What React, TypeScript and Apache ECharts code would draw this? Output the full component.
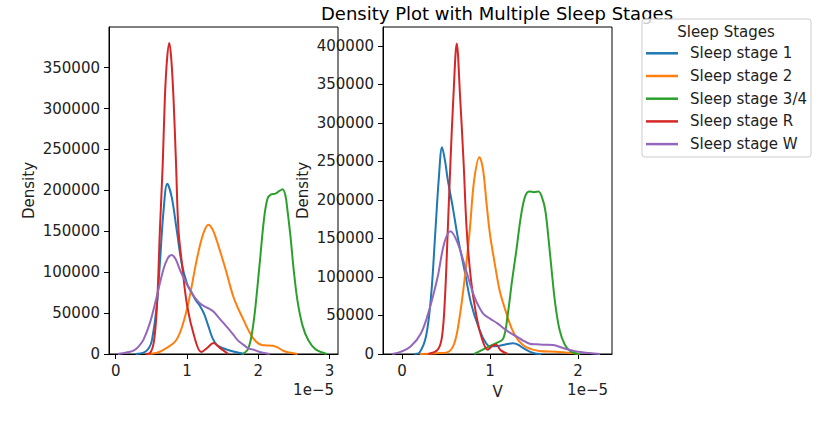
import React, { useEffect, useRef } from "react";
import * as echarts from "echarts";

// x values are in units of 1e-5 V, y values are densities
const STAGES = ["Sleep stage 1", "Sleep stage 2", "Sleep stage 3/4", "Sleep stage R", "Sleep stage W"];
const COLORS = ["#1f77b4", "#ff7f0e", "#2ca02c", "#d62728", "#9467bd"];

const LEFT_X_TICKS = [0, 1, 2, 3];
const RIGHT_X_TICKS = [0, 1, 2];
const LEFT_Y_TICKS = [0, 50000, 100000, 150000, 200000, 250000, 300000, 350000];
const RIGHT_Y_TICKS = [0, 50000, 100000, 150000, 200000, 250000, 300000, 350000, 400000];

// ---- left panel ----
const L1_X = [0.28, 0.40, 0.47, 0.51, 0.575, 0.62, 0.668, 0.724, 0.785, 0.855, 0.925, 1.0, 1.06, 1.12, 1.18, 1.24, 1.30, 1.36, 1.42, 1.51, 1.65, 1.80];
const L1_Y = [0, 2000, 8000, 17500, 58000, 111000, 172000, 208000, 192000, 152000, 111000, 86000, 76000, 66000, 59000, 49000, 34000, 19000, 11000, 7000, 3000, 0];

const L2_X = [0.44, 0.58, 0.67, 0.81, 0.87, 0.93, 1.0, 1.06, 1.12, 1.18, 1.24, 1.30, 1.36, 1.416, 1.47, 1.53, 1.59, 1.65, 1.71, 1.77, 1.88, 1.97, 2.05, 2.12, 2.2, 2.27, 2.35, 2.45, 2.55];
const L2_Y = [0, 1500, 5000, 13000, 20000, 33000, 55000, 80000, 108000, 132000, 150000, 158000, 152000, 139000, 124000, 107000, 88000, 70000, 57000, 46000, 26000, 15000, 11000, 10500, 10000, 8000, 4000, 1500, 0];

const L3_X = [1.78, 1.85, 1.90, 1.95, 2.02, 2.08, 2.13, 2.18, 2.24, 2.29, 2.34, 2.38, 2.41, 2.45, 2.50, 2.55, 2.62, 2.70, 2.80, 2.96];
const L3_Y = [0, 5000, 20000, 50000, 111000, 165000, 190000, 195000, 196000, 199000, 201500, 194000, 175000, 145000, 100000, 65000, 35000, 17000, 6000, 0];

const LR_X = [0.42, 0.48, 0.54, 0.585, 0.62, 0.66, 0.69, 0.72, 0.752, 0.78, 0.81, 0.846, 0.88, 0.93, 1.0, 1.1, 1.2, 1.29, 1.37, 1.46, 1.58];
const LR_Y = [0, 1000, 17500, 70000, 152000, 233000, 314000, 360000, 380000, 360000, 314000, 233000, 152000, 110000, 60000, 22000, 2500, 8000, 13500, 7500, 0];

const LW_X = [0.03, 0.10, 0.18, 0.25, 0.32, 0.39, 0.48, 0.575, 0.668, 0.73, 0.785, 0.84, 0.90, 0.97, 1.04, 1.11, 1.18, 1.25, 1.32, 1.37, 1.44, 1.51, 1.58, 1.65, 1.72, 1.79, 1.86, 1.93, 2.02, 2.16];
const LW_Y = [0, 1000, 2500, 4000, 9000, 17500, 38000, 70000, 103000, 117000, 121000, 116000, 103000, 90000, 78500, 69000, 62000, 58000, 55000, 52000, 45000, 38000, 31000, 23600, 16000, 11400, 7000, 5300, 2500, 0];

// ---- right panel ----
const R1_X = [0.14, 0.2, 0.273, 0.33, 0.38, 0.417, 0.455, 0.49, 0.52, 0.576, 0.633, 0.71, 0.784, 0.88, 0.955, 1.0, 1.11, 1.2, 1.26, 1.32, 1.375, 1.49, 1.58];
const R1_Y = [0, 2000, 23000, 75000, 161000, 226000, 268500, 250000, 226000, 191000, 152000, 109000, 66000, 31500, 14000, 10000, 10800, 13000, 14000, 12000, 7800, 1300, 0];

const R2_X = [0.2, 0.39, 0.52, 0.595, 0.65, 0.71, 0.77, 0.82, 0.88, 0.92, 0.96, 1.0, 1.05, 1.11, 1.18, 1.25, 1.32, 1.41, 1.56, 1.75, 1.95, 2.02];
const R2_Y = [0, 1000, 2500, 14000, 44500, 96000, 161000, 226000, 255500, 240000, 196000, 155000, 120000, 82000, 55000, 32000, 18000, 9000, 4000, 3000, 1000, 0];

const R3_X = [0.82, 0.99, 1.07, 1.15, 1.20, 1.25, 1.30, 1.35, 1.40, 1.45, 1.50, 1.55, 1.60, 1.63, 1.66, 1.70, 1.74, 1.79, 1.85, 1.92, 2.01];
const R3_Y = [0, 10000, 14000, 20000, 50000, 95000, 135000, 178000, 205000, 211000, 210000, 211000, 200000, 185000, 155000, 109000, 66000, 31500, 12000, 3000, 0];

const RR_X = [0.30, 0.406, 0.455, 0.489, 0.52, 0.55, 0.584, 0.622, 0.66, 0.70, 0.735, 0.784, 0.84, 0.90, 0.974, 1.03, 1.07, 1.12, 1.2];
const RR_Y = [0, 5600, 23000, 75000, 161000, 248000, 334000, 403000, 334000, 248000, 161000, 96000, 53000, 23000, 5600, 11000, 12000, 5000, 0];

const RW_X = [-0.11, -0.01, 0.10, 0.216, 0.31, 0.406, 0.48, 0.55, 0.633, 0.727, 0.82, 0.917, 1.0, 1.08, 1.15, 1.22, 1.30, 1.375, 1.45, 1.53, 1.60, 1.716, 1.83, 1.98, 2.13, 2.25];
const RW_Y = [0, 3000, 10000, 27000, 57500, 100600, 144000, 159500, 144000, 109000, 75000, 53000, 46000, 40000, 33700, 28000, 22800, 17500, 13400, 12500, 12000, 11600, 7800, 3400, 1300, 0];

const LEFT_SERIES = [[L1_X, L1_Y], [L2_X, L2_Y], [L3_X, L3_Y], [LR_X, LR_Y], [LW_X, LW_Y]];
const RIGHT_SERIES = [[R1_X, R1_Y], [R2_X, R2_Y], [R3_X, R3_Y], [RR_X, RR_Y], [RW_X, RW_Y]];

const FONT = "DejaVu Sans";
const TXT = "#222";

function pairs(xs: number[], ys: number[]) {
  return xs.map((x, i) => [x, ys[i]]);
}

function xAxis(grid: number, min: number, max: number, ticks: number[], name?: string) {
  return {
    type: "value",
    gridIndex: grid,
    min,
    max,
    name: name || "",
    nameLocation: "middle",
    nameGap: 30,
    nameTextStyle: { fontSize: 15, color: TXT, fontFamily: FONT },
    splitLine: { show: false },
    axisLine: { show: true, onZero: false, lineStyle: { color: "#000", width: 1 } },
    axisTick: { show: true, customValues: ticks, length: 5, lineStyle: { color: "#000", width: 1 } },
    axisLabel: {
      customValues: ticks,
      margin: 9,
      fontSize: 15,
      color: TXT,
      fontFamily: FONT,
      formatter: (v: number) => String(v),
    },
  };
}

function yAxis(grid: number, max: number, ticks: number[]) {
  return {
    type: "value",
    gridIndex: grid,
    min: 0,
    max,
    name: "Density",
    nameLocation: "middle",
    nameGap: 73,
    nameRotate: 90,
    nameTextStyle: { fontSize: 15, color: TXT, fontFamily: FONT },
    splitLine: { show: false },
    axisLine: { show: true, onZero: false, lineStyle: { color: "#000", width: 1 } },
    axisTick: { show: true, customValues: ticks, length: 5, lineStyle: { color: "#000", width: 1 } },
    axisLabel: {
      customValues: ticks,
      margin: 9,
      fontSize: 15,
      color: TXT,
      fontFamily: FONT,
      formatter: (v: number) => String(Math.round(v)),
    },
  };
}

export default function App() {
  const ref = useRef<HTMLDivElement>(null);

  useEffect(() => {
    if (!ref.current) return;
    const chart = echarts.init(ref.current, undefined, { renderer: "svg" });

    const series: any[] = [];
    LEFT_SERIES.forEach(([xs, ys], i) => {
      series.push({
        type: "line",
        name: STAGES[i],
        xAxisIndex: 0,
        yAxisIndex: 0,
        data: pairs(xs, ys),
        showSymbol: false,
        symbol: "none",
        smooth: 0.35,
        color: COLORS[i],
        lineStyle: { width: 2, color: COLORS[i] },
      });
    });
    RIGHT_SERIES.forEach(([xs, ys], i) => {
      series.push({
        type: "line",
        name: STAGES[i],
        xAxisIndex: 1,
        yAxisIndex: 1,
        data: pairs(xs, ys),
        showSymbol: false,
        symbol: "none",
        smooth: 0.35,
        color: COLORS[i],
        lineStyle: { width: 2, color: COLORS[i] },
      });
    });

    chart.setOption({
      animation: false,
      backgroundColor: "#fff",
      grid: [
        { left: 109, top: 27, width: 229, height: 327, show: true, borderColor: "#000", borderWidth: 1, backgroundColor: "transparent" },
        { left: 383, top: 27, width: 229, height: 327, show: true, borderColor: "#000", borderWidth: 1, backgroundColor: "transparent" },
      ],
      xAxis: [
        xAxis(0, -0.094, 3.118, LEFT_X_TICKS),
        xAxis(1, -0.216, 2.386, RIGHT_X_TICKS, "V"),
      ],
      yAxis: [yAxis(0, 399700, LEFT_Y_TICKS), yAxis(1, 424500, RIGHT_Y_TICKS)],
      legend: {
        orient: "vertical",
        left: 646,
        top: 45.8,
        padding: 0,
        itemWidth: 32,
        itemHeight: 2.5,
        itemGap: 7.7,
        icon: "rect",
        z: 10,
        data: STAGES,
        textStyle: { fontSize: 15, color: TXT, fontFamily: FONT, lineHeight: 15, padding: [0, 0, 0, 7] },
      },
      graphic: [
        {
          type: "text",
          x: 497,
          y: 13,
          z: 1,
          style: {
            text: "Density Plot with Multiple Sleep Stages",
            fontSize: 18,
            fontFamily: FONT,
            fill: "#000",
            align: "center",
            verticalAlign: "middle",
          },
        },
        {
          type: "rect",
          z: 2,
          shape: { x: 642, y: 19, width: 169, height: 138, r: 3 },
          style: { fill: "rgba(255,255,255,0.8)", stroke: "#cccccc", lineWidth: 1 },
        },
        {
          type: "text",
          x: 726,
          y: 32,
          z: 3,
          style: {
            text: "Sleep Stages",
            fontSize: 15,
            fontFamily: FONT,
            fill: TXT,
            align: "center",
            verticalAlign: "middle",
          },
        },
        {
          type: "text",
          x: 334,
          y: 390,
          z: 3,
          style: { text: "1e\u22125", fontSize: 15, fontFamily: FONT, fill: TXT, align: "right", verticalAlign: "middle" },
        },
        {
          type: "text",
          x: 608,
          y: 390,
          z: 3,
          style: { text: "1e\u22125", fontSize: 15, fontFamily: FONT, fill: TXT, align: "right", verticalAlign: "middle" },
        },
      ],
      series,
    });

    return () => chart.dispose();
  }, []);

  return <div ref={ref} style={{ position: "absolute", left: 0, top: 0, width: 827, height: 430 }} />;
}
